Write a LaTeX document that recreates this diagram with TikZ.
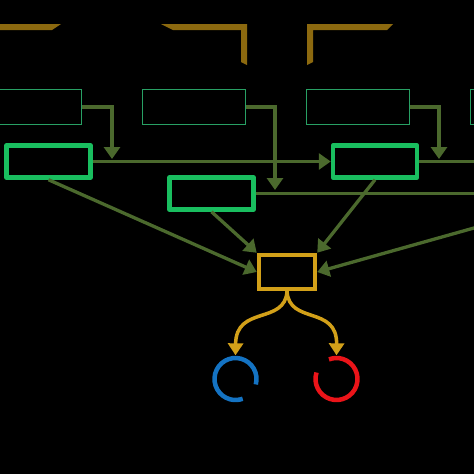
\documentclass[tikz,border=0pt]{standalone}
\usetikzlibrary{arrows.meta}
\definecolor{brk}{RGB}{140,105,15}
\definecolor{thin}{RGB}{40,160,100}
\definecolor{thick}{RGB}{25,190,95}
\definecolor{conn}{RGB}{75,105,45}
\definecolor{goldc}{RGB}{210,160,25}
\definecolor{blu}{RGB}{20,115,195}
\definecolor{rd}{RGB}{235,20,25}
\tikzset{
  thinbox/.style={draw=thin,line width=1.8pt,minimum width=103pt,minimum height=35pt,inner sep=0pt},
  thickbox/.style={draw=thick,line width=4.5pt,line join=round,minimum width=84pt,minimum height=32pt,inner sep=0pt},
  goldbox/.style={draw=goldc,line width=4.5pt,minimum width=56pt,minimum height=34pt,inner sep=0pt},
  ring/.style={circle,minimum size=47pt,inner sep=0pt},
  gconn/.style={draw=conn,line width=3.3pt,-{Triangle[width=16pt,length=12pt]}},
  gline/.style={draw=conn,line width=3.3pt},
  oconn/.style={draw=goldc,line width=3.5pt,-{Triangle[width=15pt,length=12pt]}},
}
\begin{document}
\begin{tikzpicture}[x=1pt,y=-1pt]
\useasboundingbox (0,0) rectangle (474,474);
\fill[black] (0,0) rectangle (474,474);
\clip (0,0) rectangle (474,474);
% top brackets
\fill[brk] (-5,24) -- (61,24) -- (52,30) -- (-5,30) -- cycle;
\fill[brk] (161,24) -- (247,24) -- (247,65) -- (241,62) -- (241,30) -- (173,30) -- cycle;
\fill[brk] (307,65) -- (307,24) -- (393,24) -- (387,30) -- (313,30) -- (313,62) -- cycle;
% thin boxes
\node[thinbox] (t1) at (30,107) {};
\node[thinbox] (t2) at (194,107) {};
\node[thinbox] (t3) at (358,107) {};
\node[thinbox] (t4) at (522,107) {};
% thick boxes
\node[thickbox] (A) at (48.5,161.5) {};
\node[thickbox] (B) at (375,161.5) {};
\node[thickbox] (C) at (211.5,193.5) {};
% gold box
\node[goldbox] (D) at (287,272) {};
% rings
\node[ring] (bc) at (235.5,379) {};
\node[ring] (rc) at (336.5,379) {};
\draw[blu,line width=4.5pt] ([shift={(-15:21pt)}]bc.center) arc[start angle=-15,end angle=290,radius=21pt];
\draw[rd,line width=4.5pt] ([shift={(162:21pt)}]rc.center) arc[start angle=162,end angle=471,radius=21pt];
% coordinates
\coordinate (k1) at (112,159);
\coordinate (k2) at (275,190);
\coordinate (k3) at (439,159);
\coordinate (eB) at (480,161.5);
\coordinate (eC) at (480,193.5);
\coordinate (eR) at (480,226.3);
% connectors
\draw[gconn] (t1.east) -| (k1);
\draw[gconn] (t2.east) -| (k2);
\draw[gconn] (t3.east) -| (k3);
\draw[gconn] (A.east) -- (B.west);
\draw[gline] (B.east) -- (eB);
\draw[gline] (C.east) -- (eC);
\draw[gconn] (A.south) -- (D.west);
\draw[gconn] (C.south) -- (D.north west);
\draw[gconn] (B.south) -- (D.north east);
\draw[gconn] (eR) -- (D.east);
% gold split
\draw[oconn] (D.south) .. controls (285,325) and (236,305) .. (bc.north);
\draw[oconn] (D.south) .. controls (289,325) and (337,305) .. (rc.north);
\end{tikzpicture}
\end{document}
